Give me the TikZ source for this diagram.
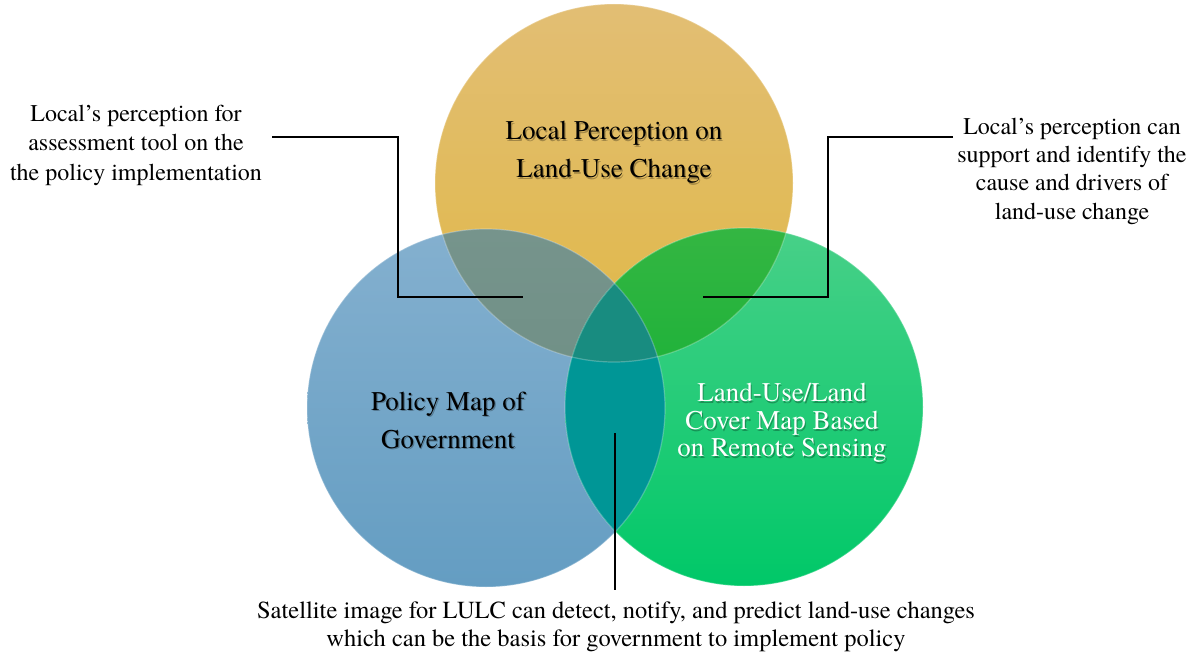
\documentclass[tikz,border=0pt]{standalone}
\usepackage{fontspec}
\setmainfont{texgyretermes-regular.otf}[BoldFont=texgyretermes-bold.otf]
\usetikzlibrary{calc}
\definecolor{goldT}{RGB}{226,190,116}
\definecolor{goldB}{RGB}{224,184,70}
\definecolor{blueT}{RGB}{132,176,207}
\definecolor{blueB}{RGB}{100,157,194}
\definecolor{greenT}{RGB}{72,208,136}
\definecolor{greenB}{RGB}{0,200,104}
\definecolor{ovTLT}{RGB}{118,148,140}
\definecolor{ovTLB}{RGB}{104,138,126}
\definecolor{ovTRT}{RGB}{52,182,66}
\definecolor{ovTRB}{RGB}{0,172,46}
\definecolor{ovLR}{RGB}{0,150,150}
\definecolor{ovC}{RGB}{24,140,128}
\tikzset{
  venn/.style={circle, minimum size=358pt, inner sep=0pt, outer sep=0pt},
  rim/.style={draw=white, draw opacity=0.25, line width=1.2pt},
  circlabel/.style={align=center, inner sep=0pt, font=\fontsize{27}{38}\selectfont},
  shadowtext/.style={text=black, text opacity=0.28},
  annot/.style={align=center, inner sep=0pt, font=\fontsize{24}{29.5}\selectfont},
  leader/.style={draw=black, line width=2pt}
}
\begin{document}
\begin{tikzpicture}[x=1pt,y=-1pt]
\useasboundingbox (0,0) rectangle (1200,661);
% circles
\node[venn, top color=goldT, bottom color=goldB] (T) at (614,183) {};
\node[venn, top color=blueT, bottom color=blueB] (L) at (486,408) {};
\node[venn, top color=greenT, bottom color=greenB] (R) at (744,407) {};
% overlaps
\begin{scope}
  \clip (T.center) circle[radius=179];
  \shade[top color=ovTLT, bottom color=ovTLB] (L.center) circle[radius=179];
\end{scope}
\begin{scope}
  \clip (T.center) circle[radius=179];
  \shade[top color=ovTRT, bottom color=ovTRB] (R.center) circle[radius=179];
\end{scope}
\begin{scope}
  \clip (L.center) circle[radius=179];
  \fill[ovLR] (R.center) circle[radius=179];
\end{scope}
\begin{scope}
  \clip (T.center) circle[radius=179];
  \clip (L.center) circle[radius=179];
  \fill[ovC] (R.center) circle[radius=179];
\end{scope}
\draw[rim] (T.center) circle[radius=179];
\draw[rim] (L.center) circle[radius=179];
\draw[rim] (R.center) circle[radius=179];
% circle label shadows
\node[circlabel, shadowtext] (tls) at (615.2,153.8) {Local Perception on\\Land-Use Change};
\node[circlabel, shadowtext] (lls) at (449.2,421.8) {Policy Map of\\Government};
\node[circlabel, shadowtext, font=\fontsize{27}{27.5}\selectfont] (rls) at (783.2,424.8) {Land-Use/Land\\Cover Map Based\\on Remote Sensing};
% circle labels
\node[circlabel] (tl) at (614,152) {Local Perception on\\Land-Use Change};
\node[circlabel] (ll) at (448,420) {Policy Map of\\Government};
\node[circlabel, text=white, font=\fontsize{27}{27.5}\selectfont] (rl) at (782,423) {Land-Use/Land\\Cover Map Based\\on Remote Sensing};
% annotations
\node[annot] (la) at (136,145) {Local’s perception for\\assessment tool on the\\the policy implementation};
\node[annot, font=\fontsize{24}{28.3}\selectfont] (ra) at (1072,171) {Local’s perception can\\support and identify the\\cause and drivers of\\land-use change};
\node[annot, font=\fontsize{24.5}{28}\selectfont] (ba) at (616,627) {Satellite image for LULC can detect, notify, and predict land-use changes\\which can be the basis for government to implement policy};
% leader lines
\coordinate (l1) at (272,137);
\coordinate (l2) at (398,297);
\coordinate (l3) at (523,297);
\coordinate (r1) at (953,137);
\coordinate (r2) at (828,297);
\coordinate (r3) at (703,297);
\coordinate (b1) at (615,433);
\coordinate (b2) at (615,590);
\draw[leader] (l1) -| (l2) -- (l3);
\draw[leader] (r1) -| (r2) -- (r3);
\draw[leader] (b1) -- (b2);
\end{tikzpicture}
\end{document}
